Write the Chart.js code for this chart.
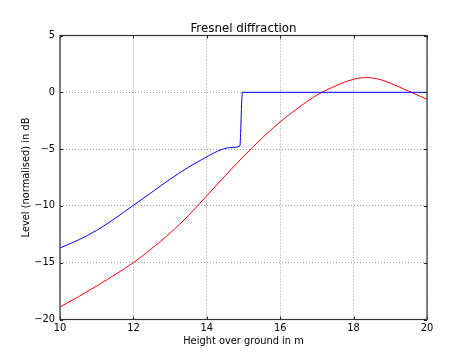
<!DOCTYPE html>
<html>
<head>
<meta charset="utf-8">
<script src="https://cdn.jsdelivr.net/npm/chart.js@4/dist/chart.umd.min.js"></script>
<style>
  html, body { margin: 0; padding: 0; background: #fff; }
  #wrap { width: 474px; height: 355px; }
</style>
</head>
<body>
<div id="wrap"><canvas id="c" width="474" height="355"></canvas></div>
<script>
// ---- data ----
const titleText = 'Fresnel diffraction';
const xTitle = 'Height over ground in m';
const yTitle = 'Level (normalised) in dB';

const blueX = [10, 10.5, 11, 11.5, 12, 12.5, 13, 13.5, 14, 14.2, 14.4, 14.65, 14.9, 14.97, 20];
const blueY = [-13.7, -13.0, -12.15, -11.1, -9.95, -8.8, -7.65, -6.6, -5.68, -5.33, -5.05, -4.86, -4.73, 0, 0];

const redX = [10, 10.5, 11, 11.5, 12, 12.5, 13, 13.5, 14, 14.5, 15, 15.5, 16, 16.5, 17, 17.5, 18, 18.35, 18.75, 19, 19.5, 20];
const redY = [-18.9, -18.0, -17.05, -16.05, -15.0, -13.75, -12.4, -10.85, -9.1, -7.35, -5.65, -4.05, -2.6, -1.35, -0.25, 0.55, 1.15, 1.3, 1.1, 0.8, 0.1, -0.62];

const xTicks = [10, 12, 14, 16, 18, 20];
const yTicks = [-20, -15, -10, -5, 0, 5];

const toPts = (xs, ys) => xs.map((x, i) => ({x: x, y: ys[i]}));
const fmt = v => (v < 0 ? '\u2212' + Math.abs(v) : String(v));

const FONT = 'DejaVu Sans';

const framePlugin = {
  id: 'frame',
  afterDraw(chart) {
    const {ctx, chartArea: a, scales} = chart;
    ctx.save();
    // inward ticks
    ctx.strokeStyle = '#222';
    ctx.lineWidth = 1;
    ctx.beginPath();
    xTicks.forEach(v => {
      const px = Math.round(scales.x.getPixelForValue(v)) + 0.5;
      ctx.moveTo(px, a.bottom); ctx.lineTo(px, a.bottom - 3);
      ctx.moveTo(px, a.top); ctx.lineTo(px, a.top + 3);
    });
    yTicks.forEach(v => {
      const py = Math.round(scales.y.getPixelForValue(v)) + 0.5;
      ctx.moveTo(a.left, py); ctx.lineTo(a.left + 3, py);
      ctx.moveTo(a.right, py); ctx.lineTo(a.right - 3, py);
    });
    ctx.stroke();
    // frame
    ctx.strokeStyle = '#333';
    ctx.lineWidth = 1.2;
    ctx.strokeRect(a.left, a.top, a.right - a.left, a.bottom - a.top);
    // title
    ctx.fillStyle = '#000';
    ctx.font = '11.85px "' + FONT + '"';
    ctx.textAlign = 'center';
    ctx.textBaseline = 'alphabetic';
    ctx.fillText(titleText, (a.left + a.right) / 2, 31.5);
    ctx.restore();
  }
};

new Chart(document.getElementById('c'), {
  type: 'line',
  data: {
    datasets: [
      {
        data: toPts(blueX, blueY),
        borderColor: '#0000ff',
        borderWidth: 1,
        pointRadius: 0,
        fill: false,
        cubicInterpolationMode: 'monotone'
      },
      {
        data: toPts(redX, redY),
        borderColor: '#ff0000',
        borderWidth: 1,
        pointRadius: 0,
        fill: false,
        cubicInterpolationMode: 'monotone'
      }
    ]
  },
  options: {
    responsive: false,
    animation: false,
    devicePixelRatio: 1,
    layout: { padding: { top: 35.5, right: 47, bottom: 0, left: 0 } },
    plugins: {
      legend: { display: false },
      tooltip: { enabled: false },
      title: { display: false }
    },
    scales: {
      x: {
        type: 'linear',
        min: 10, max: 20,
        afterFit(s) { s.height = 35.5; },
        afterBuildTicks(s) { s.ticks = xTicks.map(v => ({value: v})); },
        grid: { color: '#9a9a9a', lineWidth: 1, drawTicks: false },
        border: { display: false, dash: [1, 2] },
        ticks: {
          padding: 3,
          color: '#000',
          font: { family: FONT, size: 9.87 },
          callback: v => fmt(v),
          maxRotation: 0
        },
        title: {
          display: true,
          text: xTitle,
          color: '#000',
          font: { family: FONT, size: 9.87 },
          padding: { top: 0, bottom: 8 }
        }
      },
      y: {
        type: 'linear',
        min: -20, max: 5,
        afterFit(s) { s.width = 60; },
        afterBuildTicks(s) { s.ticks = yTicks.map(v => ({value: v})); },
        grid: { color: '#9a9a9a', lineWidth: 1, drawTicks: false },
        border: { display: false, dash: [1, 2] },
        ticks: {
          padding: 5,
          color: '#000',
          font: { family: FONT, size: 9.87 },
          callback: v => fmt(v)
        },
        title: {
          display: true,
          text: yTitle,
          color: '#000',
          font: { family: FONT, size: 9.87 },
          padding: { top: 21, bottom: 0 }
        }
      }
    }
  },
  plugins: [framePlugin]
});
</script>
</body>
</html>
